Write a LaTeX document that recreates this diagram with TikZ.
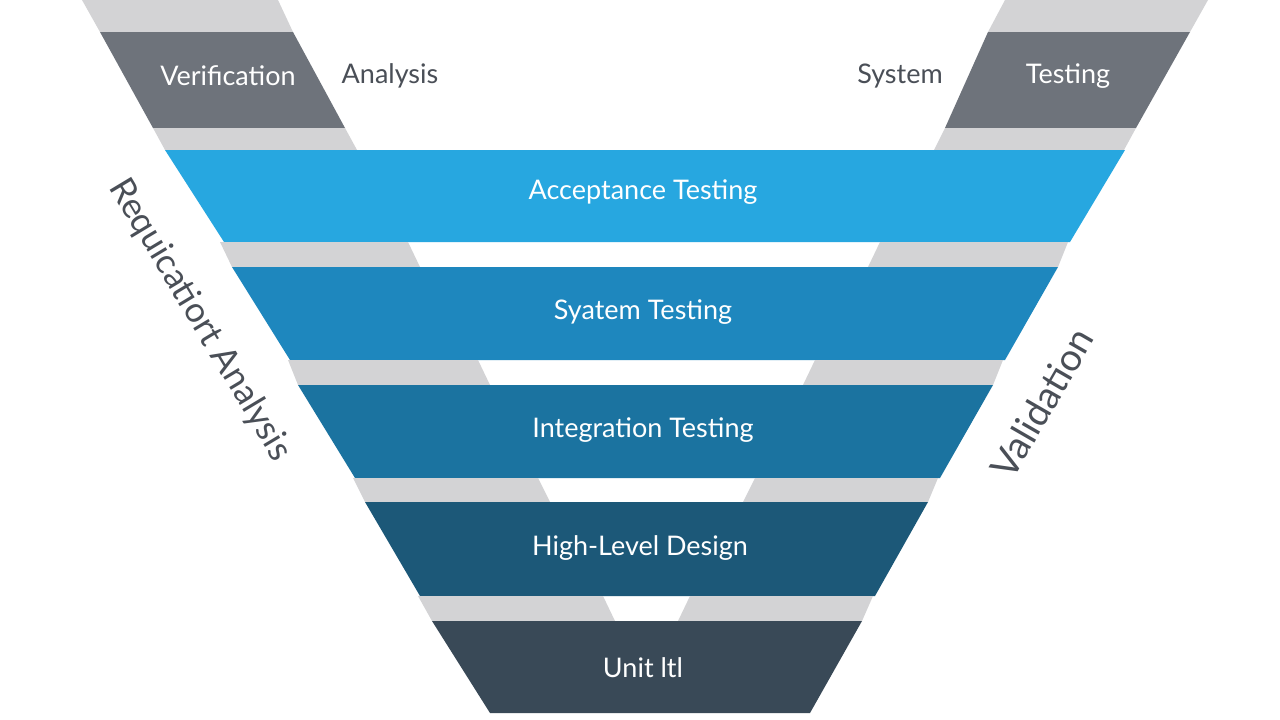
\documentclass[tikz,border=0pt]{standalone}
\usepackage{fontspec}
\setmainfont{Lato}
\definecolor{lg}{HTML}{D3D3D5}
\definecolor{dg}{HTML}{6E737B}
\definecolor{b1}{HTML}{27A7E0}
\definecolor{b2}{HTML}{1E87BE}
\definecolor{b3}{HTML}{1B73A0}
\definecolor{b4}{HTML}{1C5878}
\definecolor{b5}{HTML}{394957}
\definecolor{tx}{HTML}{4A4F57}
\begin{document}
\begin{tikzpicture}[x=1pt,y=-1pt,
  lbl/.style={text=white,font=\fontsize{27}{30}\selectfont},
  side/.style={text=tx,font=\fontsize{27}{30}\selectfont}]
\useasboundingbox (0,0) rectangle (1280,720);
\fill[white] (0,0) rectangle (1280,720);
% top-left
\fill[lg] (82,0) -- (278,0) -- (293,32) -- (100,32) -- cycle;
\fill[dg] (100,32) -- (293,32) -- (345,128) -- (153,128) -- cycle;
\fill[lg] (153,128) -- (345,128) -- (357,150) -- (165,150) -- cycle;
% top-right
\fill[lg] (1005,0) -- (1208,0) -- (1190,32) -- (988,32) -- cycle;
\fill[dg] (988,32) -- (1190,32) -- (1136,128) -- (945,128) -- cycle;
\fill[lg] (945,128) -- (1136,128) -- (1124,150) -- (934,150) -- cycle;
% bands
\fill[b1] (165,150) -- (1125,150) -- (1070,242) -- (224,242) -- cycle;
\fill[lg] (220,242) -- (408,242) -- (420,267) -- (232,267) -- cycle;
\fill[lg] (880,242) -- (1068,242) -- (1058,267) -- (868,267) -- cycle;
\fill[b2] (232,267) -- (1058,267) -- (1005,360) -- (290,360) -- cycle;
\fill[lg] (288,360) -- (478,360) -- (490,385) -- (298,385) -- cycle;
\fill[lg] (815,360) -- (1003,360) -- (993,385) -- (803,385) -- cycle;
\fill[b3] (298,385) -- (993,385) -- (940,478) -- (355,478) -- cycle;
\fill[lg] (353,478) -- (538,478) -- (550,502) -- (365,502) -- cycle;
\fill[lg] (755,478) -- (938,478) -- (928,502) -- (743,502) -- cycle;
\fill[b4] (365,502) -- (928,502) -- (875,596) -- (420,596) -- cycle;
\fill[lg] (418,596) -- (603,596) -- (615,621) -- (432,621) -- cycle;
\fill[lg] (690,596) -- (873,596) -- (862,621) -- (678,621) -- cycle;
\fill[b5] (432,621) -- (862,621) -- (810,713) -- (490,713) -- cycle;
% labels
\node[lbl] (v) at (228,76) {Verification};
\node[side] (an) at (390,76) {Analysis};
\node[side] (sy) at (900,76) {System};
\node[lbl] (te) at (1068,76) {Testing};
\node[lbl] (l1) at (643,192) {Acceptance Testing};
\node[lbl] (l2) at (643,312) {Syatem Testing};
\node[lbl] (l3) at (643,430) {Integration Testing};
\node[lbl] (l4) at (640,548) {High-Level Design};
\node[lbl] (l5) at (643,668) {Unit ltl};
\node[side,rotate=-59,font=\fontsize{35}{38}\selectfont] (ra) at (200,320) {Requicatiort Analysis};
\node[side,rotate=60,font=\fontsize{38}{40}\selectfont] (va) at (1042,403) {Validation};
\end{tikzpicture}
\end{document}
